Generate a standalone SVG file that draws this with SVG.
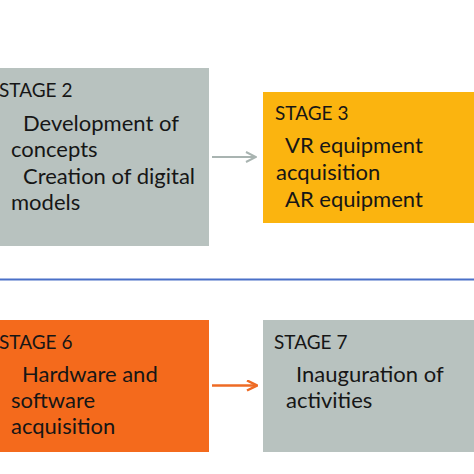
<svg xmlns="http://www.w3.org/2000/svg" width="474" height="474" viewBox="0 0 474 474">
<style>
.gray{fill:#B8C2BF}
.yellow{fill:#FBB40F}
.orange{fill:#F46A1C}
text{font-family:Lato,"Liberation Sans",sans-serif;fill:#161616}
.h{font-size:19px}
.b{font-size:22px}
</style>
<defs>
<marker id="ag" viewBox="0 0 12 12" refX="11" refY="6" markerWidth="12" markerHeight="12" markerUnits="userSpaceOnUse" orient="auto">
<path d="M1,1 L11,6 L1,11" fill="none" stroke="#A9B4B1" stroke-width="2"/>
</marker>
<marker id="ao" viewBox="0 0 12 12" refX="11" refY="6" markerWidth="12" markerHeight="12" markerUnits="userSpaceOnUse" orient="auto">
<path d="M1,1 L11,6 L1,11" fill="none" stroke="#EE6B25" stroke-width="2.5"/>
</marker>
</defs>
<rect width="474" height="474" fill="#ffffff"/>
<line x1="0" y1="279.5" x2="474" y2="279.5" stroke="#4A70C8" stroke-width="2"/>
<g id="stage2">
<rect class="gray" x="-2" y="68" width="211" height="178"/>
<text class="h" x="-1" y="97">STAGE 2</text>
<text class="b" x="23" y="131">Development of</text>
<text class="b" x="11" y="157">concepts</text>
<text class="b" x="23" y="184">Creation of digital</text>
<text class="b" x="11" y="210">models</text>
</g>
<g id="stage3">
<rect class="yellow" x="263" y="92" width="215" height="131"/>
<text class="h" x="275" y="120">STAGE 3</text>
<text class="b" x="285" y="153">VR equipment</text>
<text class="b" x="276" y="180">acquisition</text>
<text class="b" x="285" y="207">AR equipment</text>
</g>
<g id="stage6">
<rect class="orange" x="-2" y="320" width="211" height="132"/>
<text class="h" x="-1" y="349">STAGE 6</text>
<text class="b" x="22" y="382">Hardware and</text>
<text class="b" x="11" y="408">software</text>
<text class="b" x="11" y="434">acquisition</text>
</g>
<g id="stage7">
<rect class="gray" x="263" y="320" width="215" height="132"/>
<text class="h" x="274" y="349">STAGE 7</text>
<text class="b" x="296" y="382">Inauguration of</text>
<text class="b" x="286" y="408">activities</text>
</g>
<g id="connectors">
<line x1="212" y1="157" x2="256" y2="157" stroke="#A9B4B1" stroke-width="2" marker-end="url(#ag)"/>
<line x1="212" y1="385.5" x2="257" y2="385.5" stroke="#EE6B25" stroke-width="2.5" marker-end="url(#ao)"/>
</g>
</svg>
